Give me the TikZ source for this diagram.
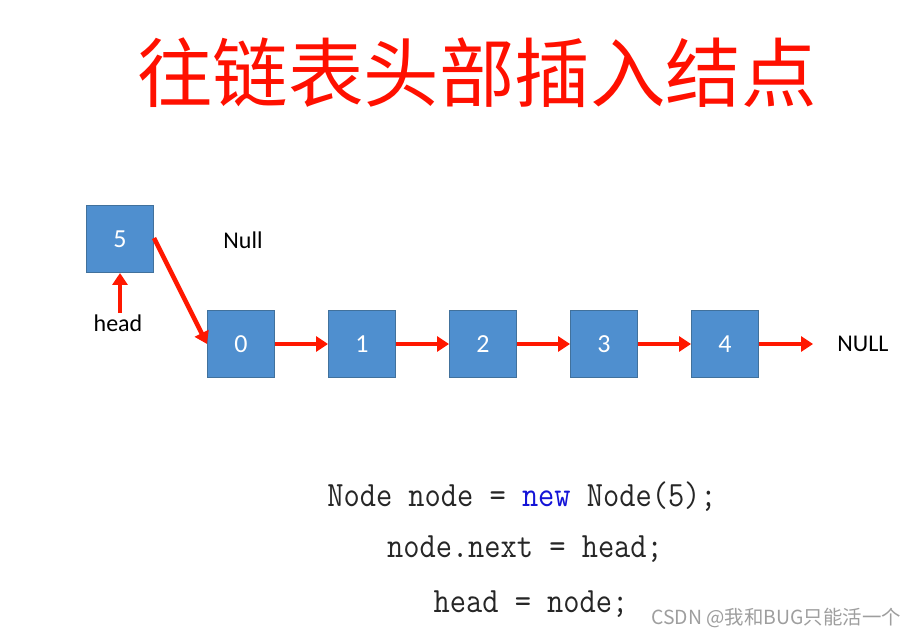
\documentclass[tikz,border=0pt]{standalone}
\usepackage{fontspec}
\setmainfont{Carlito}
\newfontfamily\cjk{Noto Sans CJK SC}
\usetikzlibrary{arrows.meta}
\definecolor{boxfill}{RGB}{79,143,207}
\definecolor{boxline}{RGB}{65,113,156}
\definecolor{arrred}{RGB}{255,24,0}
\definecolor{titlered}{RGB}{255,16,0}
\definecolor{codeblue}{RGB}{20,20,215}
\newcommand{\codeline}[1]{\scalebox{1}[1.13]{#1}}
\begin{document}
\begin{tikzpicture}[x=1pt,y=-1pt,
  listbox/.style={draw=boxline,line width=1pt,fill=boxfill,minimum width=67pt,minimum height=67pt,inner sep=0pt,text=white,font=\fontsize{26}{30}\selectfont},
  lbl/.style={font=\fontsize{24}{28}\selectfont,inner sep=0pt},
  link/.style={draw=arrred,line width=4.5pt,-{Triangle[length=12pt,width=15pt]}},
  code/.style={font=\ttfamily\fontsize{31.5}{36}\selectfont,text=black!85,inner sep=0pt,anchor=base}
]
\fill[white] (0,0) rectangle (918,636);
\useasboundingbox (0,0) rectangle (918,636);
\node[font=\cjk\fontsize{75.5}{86}\selectfont,text=titlered,inner sep=0pt] (title) at (477,73) {往链表头部插入结点};
\node[listbox] (n5) at (120,239) {5};
\node[listbox] (n0) at (241,344) {0};
\node[listbox] (n1) at (362,344) {1};
\node[listbox] (n2) at (483,344) {2};
\node[listbox] (n3) at (604,344) {3};
\node[listbox] (n4) at (725,344) {4};
\node[lbl] (null1) at (243,240) {Null};
\node[lbl] (null2) at (863,344) {NULL};
\node[lbl] (head) at (118,323) {head};
\coordinate (nullend) at (813,344);
\coordinate (headstart) at (120,313);
\draw[link] (n0) -- (n1);
\draw[link] (n1) -- (n2);
\draw[link] (n2) -- (n3);
\draw[link] (n3) -- (n4);
\draw[link] (n4.east) -- (nullend);
\draw[link] (headstart) -- (n5.south);
\draw[link] ([yshift=1pt]n5.east) -- (n0.west);
\node[code] (c1) at (522,506) {\codeline{Node node = \textcolor{codeblue}{new} Node(5);}};
\node[code] (c2) at (525,557) {\codeline{node.next = head;}};
\node[code] (c3) at (531,612) {\codeline{head = node;}};
\node[font=\cjk\fontsize{19.4}{22}\selectfont,text=black!38,anchor=east,inner sep=0pt] (wm) at (901,618) {CSDN @我和BUG只能活一个};
\end{tikzpicture}
\end{document}
